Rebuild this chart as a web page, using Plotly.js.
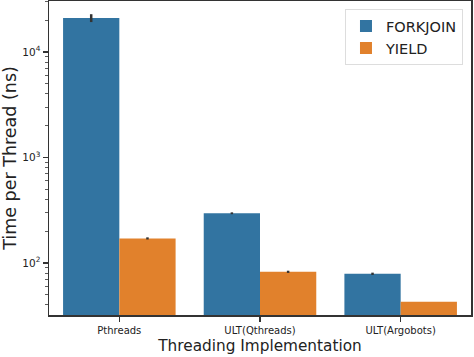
<!DOCTYPE html>
<html>
<head>
<meta charset="utf-8">
<script src="https://cdn.plot.ly/plotly-3.0.1.min.js"></script>
<style>html,body{margin:0;padding:0;background:#fff;}#chart{width:474px;height:357px;}</style>
</head>
<body>
<div id="chart"></div>
<script>
const categories = ["Pthreads", "ULT(Qthreads)", "ULT(Argobots)"];
const forkjoin = [21000, 296, 79];
const forkjoinErr = [1800, 6, 2];
const yieldVals = [171, 82.5, 43];
const yieldErr = [4, 2, 0];
const seriesNames = ["FORKJOIN", "YIELD"];
const majorTicks = [100, 1000, 10000];
const majorTickLabels = ["10<sup>2</sup>", "10<sup>3</sup>", "10<sup>4</sup>"];
const minorTicks = [40, 50, 60, 70, 80, 90, 200, 300, 400, 500, 600, 700, 800, 900,
  2000, 3000, 4000, 5000, 6000, 7000, 8000, 9000, 20000, 30000];

const font = "DejaVu Sans, sans-serif";
const traces = [
  {type: "bar", name: seriesNames[0], x: categories, y: forkjoin,
   marker: {color: "#3274a1", line: {width: 0}},
   error_y: {type: "data", array: forkjoinErr, visible: true, color: "#333", thickness: 2.5, width: 0}},
  {type: "bar", name: seriesNames[1], x: categories, y: yieldVals,
   marker: {color: "#e1812c", line: {width: 0}},
   error_y: {type: "data", array: yieldErr, visible: true, color: "#333", thickness: 2.5, width: 0}}
];
const layout = {
  width: 474, height: 357,
  margin: {l: 49, r: 3, t: 1, b: 42},
  paper_bgcolor: "#fff", plot_bgcolor: "#fff",
  font: {family: font, color: "#222"},
  barmode: "group", bargap: 0.2, bargroupgap: 0,
  showlegend: true,
  legend: {x: 0.981, y: 0.974, xanchor: "right", yanchor: "top",
    bgcolor: "#fff", bordercolor: "#ddd", borderwidth: 1,
    font: {family: font, size: 14.5, color: "#222"}, itemwidth: 30, tracegroupgap: 2},
  xaxis: {type: "category", range: [-0.5, 2.5],
    showline: true, mirror: true, linecolor: "#333", linewidth: 1.5,
    ticks: "outside", ticklen: 5, tickwidth: 1.2, tickcolor: "#333",
    tickfont: {family: font, size: 10, color: "#222"},
    showgrid: false, zeroline: false,
    title: {text: "Threading Implementation", font: {family: font, size: 15.3, color: "#222"}, standoff: 6}},
  yaxis: {type: "log", range: [1.507, 4.483],
    showline: true, mirror: true, linecolor: "#333", linewidth: 1.5,
    ticks: "outside", ticklen: 5, tickwidth: 1.2, tickcolor: "#333",
    tickmode: "array", tickvals: majorTicks, ticktext: majorTickLabels,
    tickfont: {family: font, size: 10.5, color: "#222"},
    minor: {tickmode: "array", tickvals: minorTicks, ticks: "outside", ticklen: 3, tickwidth: 0.8, tickcolor: "#333", showgrid: false},
    showgrid: false, zeroline: false,
    title: {text: "Time per Thread (ns)", font: {family: font, size: 17.5, color: "#222"}, standoff: 6}}
};
Plotly.newPlot("chart", traces, layout, {staticPlot: true, displayModeBar: false});
</script>
</body>
</html>
